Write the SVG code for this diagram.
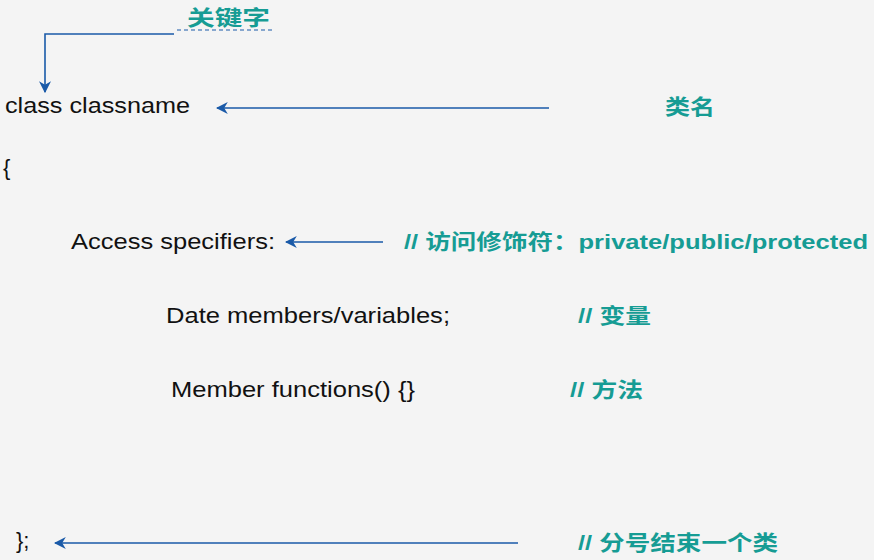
<svg xmlns="http://www.w3.org/2000/svg" width="874" height="560" viewBox="0 0 874 560">
<style>
.code{font-family:"Liberation Sans","Noto Sans CJK SC",sans-serif;font-size:22px;fill:#111}
.note{font-family:"Liberation Sans","Noto Sans CJK SC",sans-serif;font-size:21px;font-weight:bold;fill:#169c94}
.conn{stroke:#1a5aa8;stroke-width:1.6;fill:none}
</style>
<defs>
<marker id="ah2" viewBox="0 0 10 10" refX="9" refY="5" markerWidth="12" markerHeight="12" markerUnits="userSpaceOnUse" orient="auto">
<path d="M0,0 L10,5 L0,10 L3,5 Z" fill="#1a5aa8"/>
</marker>
</defs>
<rect width="874" height="560" fill="#f4f4f4"/>
<g id="connectors">
<path class="conn" d="M174,34 H45 V92" marker-end="url(#ah2)"/>
<line x1="177" y1="30" x2="272" y2="30" stroke="#1a5aa8" stroke-width="1.2" stroke-dasharray="4,3"/>
<line class="conn" x1="549" y1="108" x2="217" y2="108" marker-end="url(#ah2)"/>
<line class="conn" x1="383" y1="242" x2="286" y2="242" marker-end="url(#ah2)"/>
<line class="conn" x1="518" y1="543" x2="55" y2="543" marker-end="url(#ah2)"/>
</g>
<g id="keyword"><text class="note" x="187" y="25" font-size="20" textLength="83" lengthAdjust="spacingAndGlyphs">关键字</text></g>
<g id="classline"><text class="code" x="5" y="113" textLength="185" lengthAdjust="spacingAndGlyphs">class classname</text></g>
<g id="classname-note"><text class="note" x="665" y="114" textLength="50" lengthAdjust="spacingAndGlyphs">类名</text></g>
<g id="open-brace"><text class="code" x="3" y="175">{</text></g>
<g id="access"><text class="code" x="71" y="249" textLength="204" lengthAdjust="spacingAndGlyphs">Access specifiers:</text></g>
<g id="access-note"><text class="note" x="404" y="249" textLength="464" lengthAdjust="spacingAndGlyphs">// 访问修饰符：private/public/protected</text></g>
<g id="members"><text class="code" x="166" y="323" textLength="284" lengthAdjust="spacingAndGlyphs">Date members/variables;</text></g>
<g id="members-note"><text class="note" x="578" y="323" textLength="73" lengthAdjust="spacingAndGlyphs">// 变量</text></g>
<g id="functions"><text class="code" x="171" y="397" textLength="244" lengthAdjust="spacingAndGlyphs">Member functions() {}</text></g>
<g id="functions-note"><text class="note" x="570" y="397" textLength="73" lengthAdjust="spacingAndGlyphs">// 方法</text></g>
<g id="close-brace"><text class="code" x="16" y="548">};</text></g>
<g id="close-note"><text class="note" x="578" y="550" textLength="200" lengthAdjust="spacingAndGlyphs">// 分号结束一个类</text></g>
</svg>
